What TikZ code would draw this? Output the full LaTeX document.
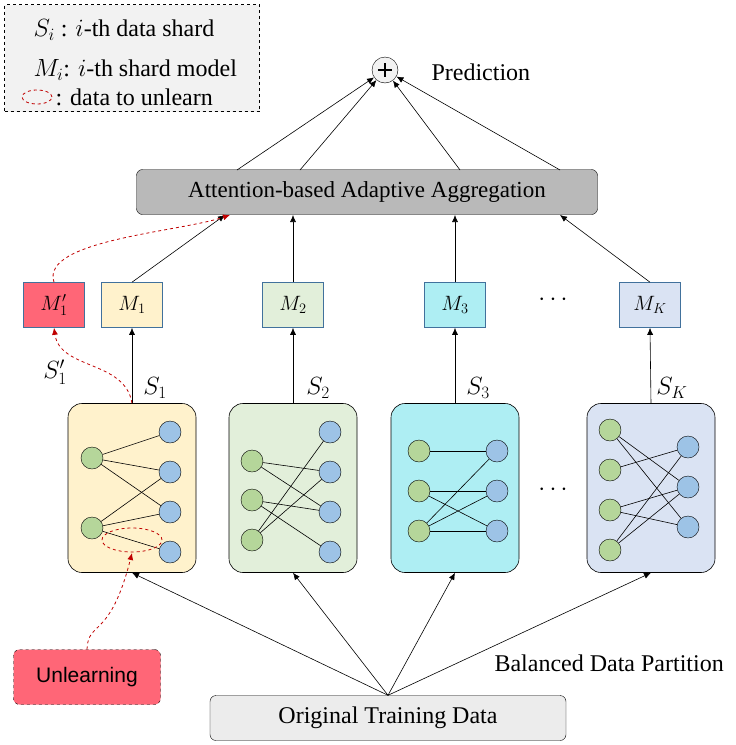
\documentclass[tikz,border=0pt]{standalone}
\usepackage{fontspec}
\setmainfont{Liberation Serif}
\newfontfamily\sansf{Liberation Sans}
\usetikzlibrary{arrows.meta,calc}
\definecolor{cyel}{HTML}{FFF2CC}
\definecolor{cgrn}{HTML}{E2EFDA}
\definecolor{ccya}{HTML}{AEEEF3}
\definecolor{cblu}{HTML}{DAE3F3}
\definecolor{cred}{HTML}{FF6677}
\definecolor{dred}{HTML}{C00000}
\definecolor{mbord}{HTML}{41719C}
\definecolor{gdot}{HTML}{B5D69A}
\definecolor{bdot}{HTML}{9DC3E6}
\tikzset{
  arr/.style={-{Latex[length=7pt,width=6pt]},semithick},
  redarr/.style={-{Latex[length=7pt,width=6pt]},dred,dashed,thick},
  shard/.style={draw,semithick,rounded corners=14pt,minimum width=128pt,minimum height=169pt},
  mbox/.style={draw=mbord,semithick,minimum width=61pt,minimum height=45pt,font=\fontsize{21}{21}\selectfont},
  gd/.style={circle,draw,fill=gdot,minimum size=22pt,inner sep=0pt},
  bd/.style={circle,draw,fill=bdot,minimum size=22pt,inner sep=0pt},
  big/.style={draw,rounded corners=6pt,font=\fontsize{23}{23}\selectfont},
  lbl/.style={font=\fontsize{24}{24}\selectfont}
}
\begin{document}
\begin{tikzpicture}[x=1pt,y=-1pt]
\useasboundingbox (0,0) rectangle (736,745);
% legend
\node[draw,dashed,fill=gray!10,minimum width=255pt,minimum height=107pt] (leg) at (132,58) {};
\node[lbl,anchor=west] (l1) at (30,30) {$S_i$ : $i$-th data shard};
\node[lbl,anchor=west] (l2) at (30,70) {$M_i$: $i$-th shard model};
\draw[dred,dashed,thick] (37,97) ellipse (15pt and 7pt);
\node[lbl,anchor=west] (l3) at (52,97) {: data to unlearn};
% top
\node[circle,draw,fill=gray!10,minimum size=26pt,inner sep=0pt] (plus) at (385,70) {};
\draw[line width=2.2pt] ($(plus)+(-7,0)$) -- ($(plus)+(7,0)$) ($(plus)+(0,-7)$) -- ($(plus)+(0,7)$);
\node[lbl,anchor=west] (pred) at (428,72) {Prediction};
\node[big,fill=gray!55,minimum width=461pt,minimum height=45pt] (agg) at (367,192) {Attention-based Adaptive Aggregation};
\foreach \x in {237,300,460,560} \draw[arr] (\x,170) -- (plus);
% models
\node[mbox,fill=cred] (m1p) at (54,305) {$M_1'$};
\node[mbox,fill=cyel] (m1) at (132,305) {$M_1$};
\node[mbox,fill=cgrn] (m2) at (293,305) {$M_2$};
\node[mbox,fill=ccya] (m3) at (455,305) {$M_3$};
\node[mbox,fill=cblu] (mk) at (650,305) {$M_K$};
\node[font=\fontsize{30}{30}\selectfont] (dots1) at (553,300) {$\cdots$};
\draw[arr] (m1.north) -- (225,215);
\draw[arr] (m2.north) -- (293,215);
\draw[arr] (m3.north) -- (455,215);
\draw[arr] (mk.north) -- (560,215);
\draw[redarr] (m1p.north) .. controls (40,240) and (180,232) .. (230,215);
% shards
\node[shard,fill=cyel] (b1) at (132,488) {};
\node[shard,fill=cgrn] (b2) at (293,488) {};
\node[shard,fill=ccya] (b3) at (455,488) {};
\node[shard,fill=cblu] (bk) at (651,488) {};
\node[font=\fontsize{30}{30}\selectfont] (dots2) at (553,490) {$\cdots$};
\draw[arr] (b1.north) -- (m1.south);
\draw[arr] (b2.north) -- (m2.south);
\draw[arr] (b3.north) -- (m3.south);
\draw[arr] (bk.north) -- (mk.south);
\node[lbl] (s1) at (155,388) {$S_1$};
\node[lbl] (s2) at (318,388) {$S_2$};
\node[lbl] (s3) at (478,388) {$S_3$};
\node[lbl] (sk) at (672,388) {$S_K$};
\node[lbl] (s1p) at (55,372) {$S_1'$};
\draw[redarr] (b1.north) .. controls (125,360) and (60,370) .. (m1p.south);
% shard 1
\node[gd] (a1) at (92,458) {}; \node[gd] (a2) at (92,528) {};
\foreach \i/\y in {1/432,2/472,3/512,4/552} \node[bd] (ar\i) at (170,\y) {};
\foreach \u/\v in {a1/ar1,a1/ar2,a1/ar3,a2/ar2,a2/ar3,a2/ar4} \draw[semithick] (\u) -- (\v);
\draw[dred,dashed,thick] (132,540) ellipse (30pt and 12pt);
% shard 2
\foreach \i/\y in {1/461,2/500,3/540} \node[gd] (b\i l) at (252,\y) {};
\foreach \i/\y in {1/432,2/472,3/512,4/552} \node[bd] (b\i r) at (330,\y) {};
\foreach \u/\v in {1/2,1/3,2/3,2/4,3/1,3/2} \draw[semithick] (b\u l) -- (b\v r);
% shard 3
\foreach \i/\y in {1/451,2/491,3/531} \node[gd] (c\i l) at (419,\y) {};
\foreach \i/\y in {1/451,2/491,3/531} \node[bd] (c\i r) at (497,\y) {};
\foreach \u/\v in {1/1,2/2,2/3,3/1,3/2,3/3} \draw[semithick] (c\u l) -- (c\v r);
% shard K
\foreach \i/\y in {1/430,2/470,3/510,4/550} \node[gd] (d\i l) at (610,\y) {};
\foreach \i/\y in {1/447,2/487,3/527} \node[bd] (d\i r) at (688,\y) {};
\foreach \u/\v in {1/2,1/3,2/1,3/2,3/3,4/1,4/2} \draw[semithick] (d\u l) -- (d\v r);
% bottom
\node[big,fill=gray!15,minimum width=356pt,minimum height=45pt,font=\fontsize{24}{24}\selectfont] (otd) at (388,718) {Original Training Data};
\node[lbl,anchor=west] (bdp) at (491,663) {Balanced Data Partition};
\draw[arr] (otd.north) -- (b1.south);
\draw[arr] (otd.north) -- (b2.south);
\draw[arr] (otd.north) -- (b3.south);
\draw[arr] (otd.north) -- (bk.south);
\node[draw,dashed,fill=cred,rounded corners=6pt,minimum width=147pt,minimum height=55pt,font=\sansf\fontsize{21}{21}\selectfont] (unl) at (87,677) {Unlearning};
\draw[redarr] (unl.north) .. controls (88,620) and (110,640) .. (132,553);
\end{tikzpicture}
\end{document}
